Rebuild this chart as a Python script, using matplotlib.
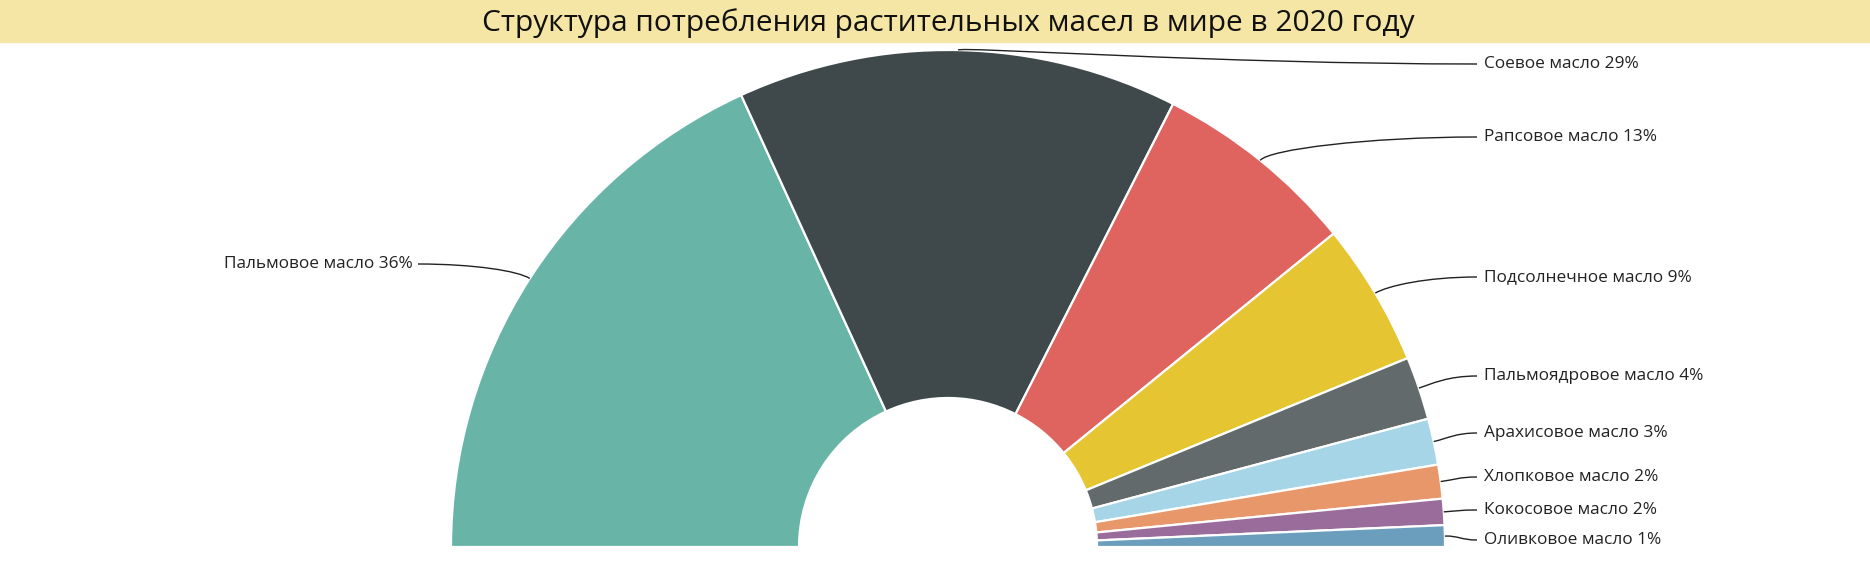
import matplotlib
matplotlib.use('Agg')
import matplotlib.pyplot as plt
from matplotlib.path import Path
from matplotlib.patches import PathPatch, Rectangle
import numpy as np

plt.rcParams['font.family'] = ['Open Sans', 'Noto Sans', 'DejaVu Sans']

title = 'Структура потребления растительных масел в мире в 2020 году'
names = ['Пальмовое масло', 'Соевое масло', 'Рапсовое масло', 'Подсолнечное масло',
         'Пальмоядровое масло', 'Арахисовое масло', 'Хлопковое масло',
         'Кокосовое масло', 'Оливковое масло']
shares = [36.3, 28.6, 13.3, 9.3, 4.1, 3.0, 2.2, 1.7, 1.4]
colors = ['#68b5a8', '#3f484a', '#df635e', '#e5c531', '#636a6b',
          '#a6d5e8', '#e8976a', '#9a6c9b', '#6a9ebc']

# layout in pixels (figure is 1870x576, y measured from the top)
W, H = 1870, 576
cx, cy = 948, H - 547
r_out, r_in = 497, 149
label_y = [264, 64, 137, 277, 376, 433, 477, 510, 540]


def leader(ax, p0, theta, end, side, k1):
    u = np.array([np.cos(np.radians(theta)), np.sin(np.radians(theta))])
    p0 = np.array(p0)
    end = np.array(end)
    p1 = p0 + u * k1
    p2 = end - np.array([side * 0.5 * abs(end[0] - p0[0]), 0])
    path = Path([p0, p1, p2, end], [Path.MOVETO, Path.CURVE4, Path.CURVE4, Path.CURVE4])
    ax.add_patch(PathPatch(path, fill=False, lw=1.0, color='#222222'))


def main():
    fig = plt.figure(figsize=(W / 100, H / 100), dpi=100)
    ax = fig.add_axes([0, 0, 1, 1])

    # semicircle: hidden wedge fills the lower half
    vals = shares + [sum(shares)]
    wedges, _ = ax.pie(vals, colors=colors + ['white'], startangle=180, counterclock=False,
                       radius=r_out, center=(cx, cy),
                       wedgeprops=dict(width=r_out - r_in, edgecolor='white', linewidth=1.6))
    wedges[-1].set_visible(False)

    ax.set_xlim(0, W)
    ax.set_ylim(0, H)
    ax.set_aspect('auto')
    ax.axis('off')

    # title bar
    ax.add_patch(Rectangle((0, H - 42), W, 42, color='#f5e6a6', zorder=5))
    ax.text(948, H - 23, title, ha='center', va='center', fontsize=21.5,
            color='#111111', zorder=6)

    for w, name, s, ly in zip(wedges, names, shares, label_y):
        th = (w.theta1 + w.theta2) / 2
        p0 = (cx + r_out * np.cos(np.radians(th)), cy + r_out * np.sin(np.radians(th)))
        txt = '%s %d%%' % (name, round(s))
        k1 = 4 if abs(np.cos(np.radians(th))) < 0.2 else 14
        if np.cos(np.radians(th)) >= 0:
            leader(ax, p0, th, (1477, H - ly), 1, k1)
            ax.text(1484, H - ly, txt, ha='left', va='center', fontsize=12.4, color='#222222')
        else:
            leader(ax, p0, th, (418, H - ly), -1, k1)
            ax.text(413, H - ly, txt, ha='right', va='center', fontsize=12.4, color='#222222')

    fig.savefig('out.png', dpi=100, facecolor='white')


if __name__ == '__main__':
    main()
